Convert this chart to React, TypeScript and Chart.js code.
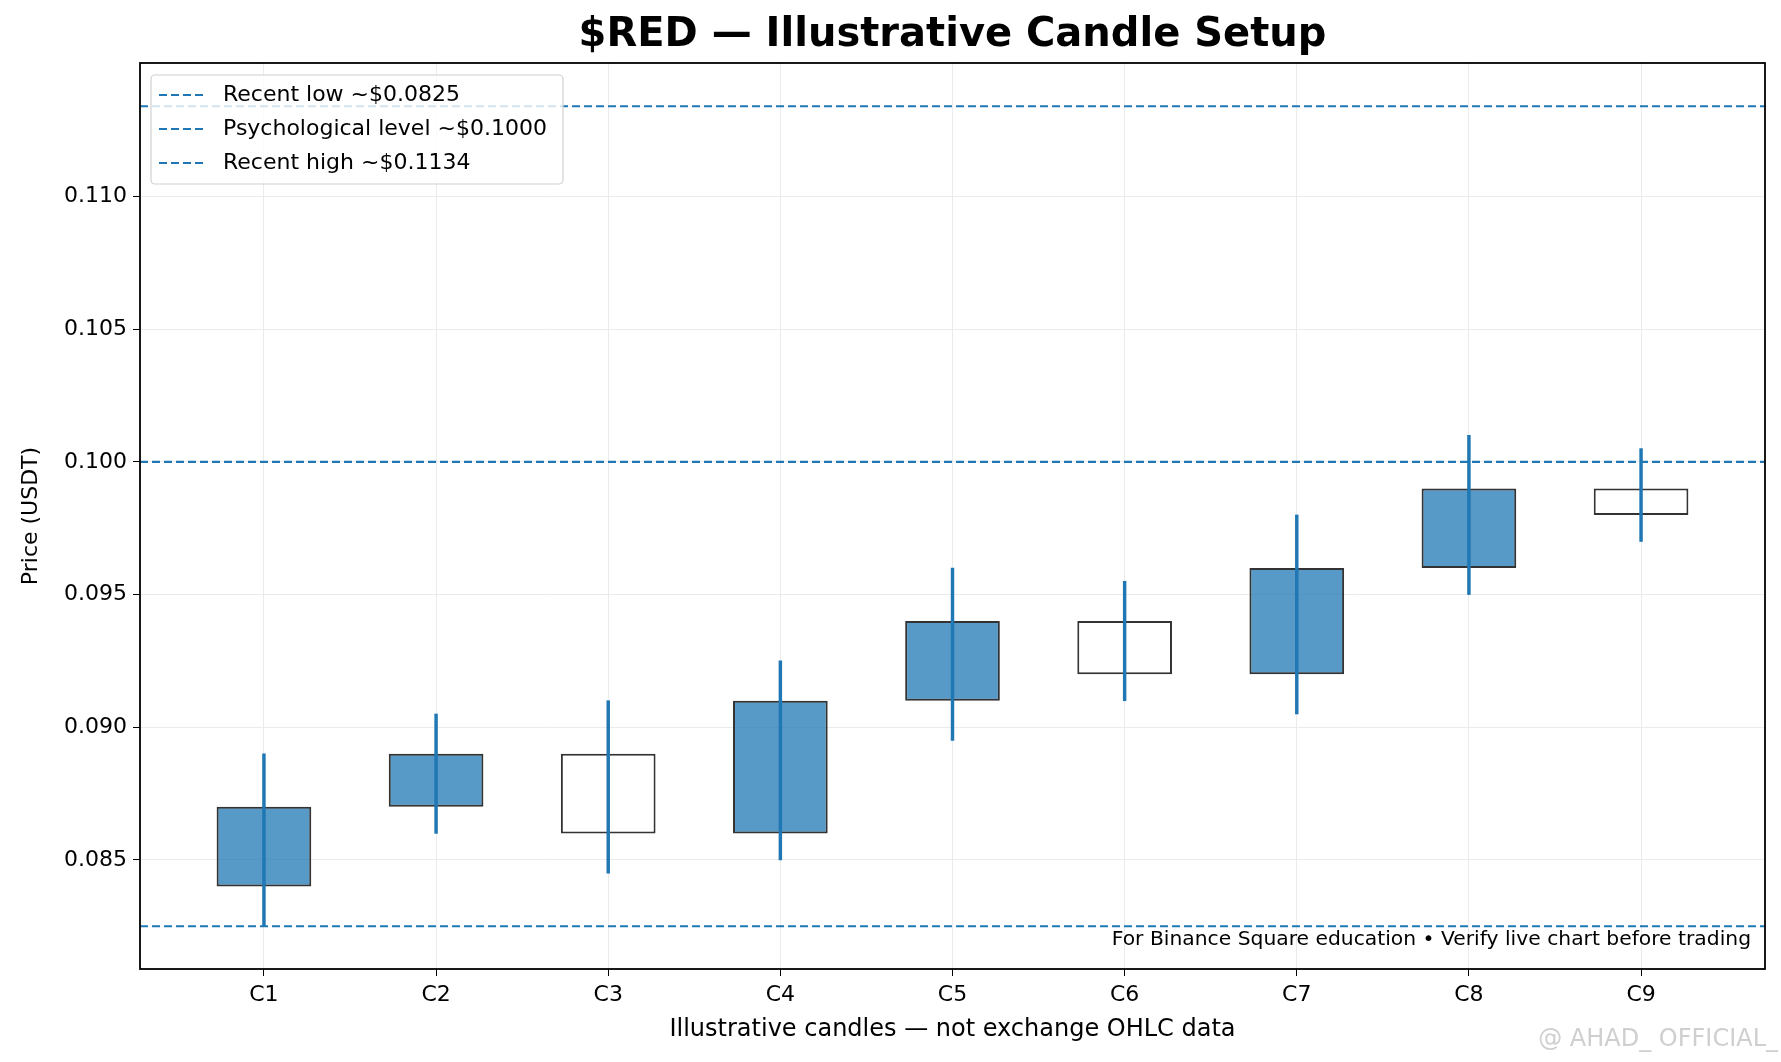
import React, { useEffect, useRef } from "react";
import { Chart, registerables } from "chart.js";
Chart.register(...registerables);

const categories = ["C1", "C2", "C3", "C4", "C5", "C6", "C7", "C8", "C9"];
const opens = [0.087, 0.087, 0.089, 0.086, 0.091, 0.094, 0.092, 0.096, 0.099];
const closes = [0.084, 0.089, 0.086, 0.091, 0.094, 0.092, 0.096, 0.099, 0.098];
const lows = [0.0825, 0.086, 0.0845, 0.085, 0.0895, 0.091, 0.0905, 0.095, 0.097];
const highs = [0.089, 0.0905, 0.091, 0.0925, 0.096, 0.0955, 0.098, 0.101, 0.1005];
const filled = [true, true, false, true, true, false, true, true, false];
const levelNames = ["Recent low ~$0.0825", "Psychological level ~$0.1000", "Recent high ~$0.1134"];
const levelValues = [0.0825, 0.1, 0.1134];
const yTicks = [0.085, 0.09, 0.095, 0.1, 0.105, 0.11];

const FONT = "'DejaVu Sans', sans-serif";
const BLUE = "#1f77b4";

export default function App() {
  const ref = useRef<HTMLCanvasElement>(null);
  useEffect(() => {
    document.body.style.margin = "0";
    const xs = categories.map((_, i) => i + 1);
    const decor = {
      id: "decor",
      afterDraw(chart: any) {
        const ctx = chart.ctx;
        const a = chart.chartArea;
        ctx.save();
        ctx.strokeStyle = "#000";
        ctx.lineWidth = 1.8;
        ctx.strokeRect(a.left, a.top, a.right - a.left, a.bottom - a.top);
        ctx.fillStyle = "#000";
        ctx.font = `bold 40px ${FONT}`;
        ctx.textAlign = "center";
        ctx.textBaseline = "middle";
        ctx.fillText("$RED — Illustrative Candle Setup", (a.left + a.right) / 2, 36);
        const lx = a.left + 11, ly = a.top + 12, lw = 412, lh = 109;
        ctx.fillStyle = "rgba(255,255,255,0.8)";
        ctx.strokeStyle = "#d0d0d0";
        ctx.lineWidth = 1.2;
        ctx.beginPath();
        (ctx as any).roundRect(lx, ly, lw, lh, 4);
        ctx.fill();
        ctx.stroke();
        ctx.font = `22px ${FONT}`;
        ctx.textAlign = "left";
        levelNames.forEach((n, i) => {
          const yy = ly + 20 + i * 34;
          ctx.strokeStyle = BLUE;
          ctx.lineWidth = 2.2;
          ctx.setLineDash([8, 4]);
          ctx.beginPath();
          ctx.moveTo(lx + 8, yy);
          ctx.lineTo(lx + 52, yy);
          ctx.stroke();
          ctx.setLineDash([]);
          ctx.fillStyle = "#000";
          ctx.fillText(n, lx + 72, yy);
        });
        ctx.font = `20.3px ${FONT}`;
        ctx.textAlign = "right";
        ctx.fillText("For Binance Square education • Verify live chart before trading", a.right - 14, a.bottom - 29);
        ctx.fillStyle = "#cfcfcf";
        ctx.font = `24px ${FONT}`;
        ctx.fillText("@ AHAD_ OFFICIAL_", 1778, 1040);
        ctx.restore();
      },
    };
    const chart = new Chart(ref.current!, {
      type: "bar",
      data: {
        datasets: [
          {
            type: "bar",
            label: "body",
            data: xs.map((x, i) => ({ x, y: [opens[i], closes[i]] })) as any,
            backgroundColor: filled.map((f) => (f ? "rgba(31,119,180,0.75)" : "#ffffff")),
            borderColor: "#333333",
            borderWidth: 2,
            borderSkipped: false,
            barPercentage: 0.55,
            categoryPercentage: 1,
            grouped: false,
            order: 2,
          } as any,
          {
            type: "bar",
            label: "wick",
            data: xs.map((x, i) => ({ x, y: [lows[i], highs[i]] })) as any,
            backgroundColor: BLUE,
            borderWidth: 0,
            barThickness: 2.8,
            grouped: false,
            order: 1,
          } as any,
          ...levelValues.map((v, i) => ({
            type: "line",
            label: levelNames[i],
            data: [{ x: 0.28, y: v }, { x: 9.72, y: v }],
            borderColor: BLUE,
            borderWidth: 2.2,
            borderDash: [8, 4],
            pointRadius: 0,
            order: 0,
          })) as any,
        ],
      },
      options: {
        animation: false,
        responsive: false,
        devicePixelRatio: 1,
        layout: { padding: { top: 63, right: 16, left: 0, bottom: 14 } },
        plugins: { legend: { display: false }, tooltip: { enabled: false }, title: { display: false } },
        scales: {
          x: {
            type: "linear",
            min: 0.28,
            max: 9.72,
            offset: false,
            afterBuildTicks: (s: any) => { s.ticks = xs.map((v) => ({ value: v })); },
            afterFit: (s: any) => { s.height = 79; },
            ticks: { callback: (v: any) => categories[Math.round(v) - 1], color: "#000", font: { family: FONT, size: 22 }, padding: 6 },
            grid: { offset: false, color: "#ebebeb", lineWidth: 1, drawTicks: true, tickColor: "#000", tickLength: 7 },
            border: { display: false },
            title: { display: true, text: "Illustrative candles — not exchange OHLC data", color: "#000", font: { family: FONT, size: 24 }, padding: { top: 2 } },
          },
          y: {
            min: 0.08089,
            max: 0.11503,
            afterBuildTicks: (s: any) => { s.ticks = yTicks.map((v) => ({ value: v })); },
            afterFit: (s: any) => { s.width = 140; },
            ticks: { callback: (v: any) => Number(v).toFixed(3), color: "#000", font: { family: FONT, size: 22 }, padding: 6 },
            grid: { color: "#ebebeb", lineWidth: 1, tickColor: "#000", tickLength: 7 },
            border: { display: false },
            title: { display: true, text: "Price (USDT)", color: "#000", font: { family: FONT, size: 22 }, padding: { top: 18, bottom: 4 } },
          },
        },
      } as any,
      plugins: [decor],
    });
    return () => chart.destroy();
  }, []);
  return (
    <div style={{ width: 1781, height: 1062, background: "#fff" }}>
      <canvas ref={ref} width={1781} height={1062} />
    </div>
  );
}
